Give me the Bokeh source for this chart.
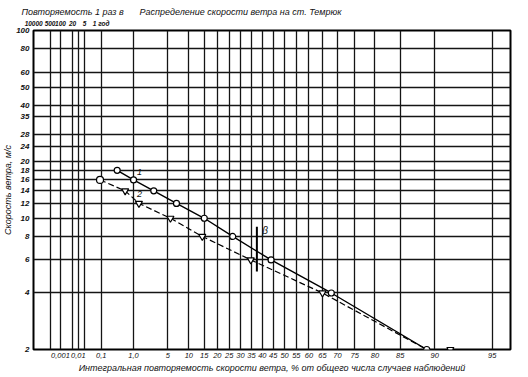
import math
from bokeh.plotting import figure
from bokeh.models import FixedTicker, LinearAxis, Label, Range1d, CustomJSTickFormatter, ColumnDataSource
from bokeh.embed import file_html
from bokeh.resources import INLINE

# ---------------- data ----------------
speed_ticks = [2, 4, 6, 8, 10, 12, 14, 16, 18, 20, 24, 28, 35, 40, 50, 60, 80, 100]
prob_ticks = [0.001, 0.01, 0.1, 1.0, 5, 10, 15, 20, 25, 30, 35, 40, 45, 50,
              55, 60, 65, 70, 75, 80, 85, 90, 95]
prob_labels = ["0,001", "0,01", "0,1", "1,0", "5", "10", "15", "20", "25", "30",
               "35", "40", "45", "50", "55", "60", "65", "70", "75", "80", "85",
               "90", "95"]
return_periods = [10000, 500, 100, 20, 5, 1]
return_labels = ["10000", "500", "100", "20", "5", "1 год"]
obs_per_year = 1000

title_text = "Распределение скорости ветра на ст. Темрюк"
top_text = "Повторяемость 1 раз в"
x_title = "Интегральная повторяемость скорости ветра, % от общего числа случаев наблюдений"
y_title = "Скорость ветра, м/с"

# series 1 (solid, circles): exceedance probability %, wind speed m/s
s1_prob = [0.35, 1.0, 2.8, 6.8, 15, 26.5, 44, 68, 89]
s1_speed = [18, 16, 14, 12, 10, 8, 6, 4, 2]
# series 2 (dashed, triangles)
s2_prob = [0.09, 0.6, 1.35, 5.5, 14.3, 34.7, 65, 91.7]
s2_speed = [16, 14, 12, 10, 8, 6, 4, 2]
s2_marker = ["circle", "inverted_triangle", "inverted_triangle", "inverted_triangle",
             "inverted_triangle", "inverted_triangle", "inverted_triangle",
             "inverted_triangle"]

beta_prob = 37.5
beta_speed = [5.2, 9.0]

FONT = "Liberation Sans"


def gum(p_percent):
    """Probability-paper scale: x = -ln(-ln P)."""
    P = p_percent / 100.0
    return -math.log(-math.log(P))


rp_prob = [100.0 / (obs_per_year * n) for n in return_periods]

p = figure(width=528, height=377, x_range=Range1d(-2.782, 3.2),
           y_range=Range1d(2, 100), y_axis_type="log",
           output_backend="svg", toolbar_location=None,
           min_border_left=32, min_border_right=18, min_border_top=30,
           min_border_bottom=28, background_fill_color="white",
           border_fill_color="white")

p.outline_line_color = "black"
p.outline_line_width = 2

# grids
vlines = [gum(v) for v in prob_ticks] + [gum(v) for v in rp_prob[1:]]
p.xgrid.ticker = FixedTicker(ticks=vlines)
p.ygrid.ticker = FixedTicker(ticks=speed_ticks)
for g in (p.xgrid, p.ygrid):
    g.grid_line_color = "#151515"
    g.grid_line_width = 1.3
    g.grid_line_alpha = 1.0


def style_axis(ax, size, fstyle, standoff):
    ax.axis_line_color = None
    ax.major_tick_line_color = None
    ax.minor_tick_line_color = None
    ax.major_tick_out = 0
    ax.major_tick_in = 0
    ax.minor_tick_out = 0
    ax.minor_tick_in = 0
    ax.major_label_standoff = standoff
    ax.major_label_text_font = FONT
    ax.major_label_text_font_style = fstyle
    ax.major_label_text_font_size = size
    ax.major_label_text_color = "#111"


# bottom axis
xt = [gum(v) for v in prob_ticks]
xa = p.xaxis[0]
xa.ticker = FixedTicker(ticks=xt)
xa.major_label_overrides = {t: l for t, l in zip(xt, prob_labels)}
style_axis(xa, "7.5px", "italic", 3)
xa.axis_label = x_title
xa.axis_label_standoff = 2
xa.axis_label_text_font = FONT
xa.axis_label_text_font_style = "italic"
xa.axis_label_text_font_size = "9px"
xa.axis_label_text_color = "#111"

# left axis
ya = p.yaxis[0]
ya.ticker = FixedTicker(ticks=speed_ticks)
ya.formatter = CustomJSTickFormatter(code="return String(Math.round(tick));")
style_axis(ya, "8px", "bold italic", 4)
ya.axis_label = y_title
ya.axis_label_standoff = 0
ya.axis_label_text_font = FONT
ya.axis_label_text_font_style = "italic"
ya.axis_label_text_font_size = "9px"
ya.axis_label_text_color = "#111"

# top axis: return period (1 time in N years)
tt = [gum(v) for v in rp_prob]
ta = LinearAxis(ticker=FixedTicker(ticks=tt),
                major_label_overrides={t: l for t, l in zip(tt, return_labels)})
style_axis(ta, "6.5px", "bold italic", 4)
p.add_layout(ta, "above")

# outer top row: heading texts anchored on chart lines
t_rp = gum(rp_prob[3])   # above the 20-year line
t_mid = gum(30)           # title centred over the 30 % line
ta2 = LinearAxis(ticker=FixedTicker(ticks=[t_rp, t_mid]),
                 major_label_overrides={t_rp: top_text, t_mid: title_text})
style_axis(ta2, "9px", "italic", 0)
p.add_layout(ta2, "above")

# series lines and markers
x1 = [gum(v) for v in s1_prob]
x2 = [gum(v) for v in s2_prob]
p.line(x1, s1_speed, line_color="black", line_width=1.4)
p.line(x2[:-1] + [x1[-1]], s2_speed[:-1] + [s1_speed[-1]], line_color="black",
       line_width=1.2, line_dash="6 3")
p.scatter(x1, s1_speed, marker="circle", size=6, fill_color="white",
          line_color="black", line_width=1.2)
src2 = ColumnDataSource(dict(x=x2, y=s2_speed, m=s2_marker))
p.scatter("x", "y", marker="m", source=src2, size=7, fill_color="white",
          line_color="black", line_width=1.2)

# beta marker
p.segment(x0=[gum(beta_prob)], y0=[beta_speed[0]], x1=[gum(beta_prob)],
          y1=[beta_speed[1]], line_color="black", line_width=2)
p.add_layout(Label(x=gum(beta_prob + 2.5), y=8.6, text="β", text_font=FONT,
                   text_font_style="italic", text_font_size="10px",
                   text_baseline="middle", text_align="left", text_color="#111"))

# series labels
for txt, yy in (("1", 17.6), ("2", 13.4)):
    p.add_layout(Label(x=gum(1.4), y=yy, text=txt, text_font=FONT,
                       text_font_style="italic", text_font_size="9px",
                       text_baseline="middle", text_align="center", text_color="#111"))

open("out.html", "w").write(file_html(p, INLINE))
